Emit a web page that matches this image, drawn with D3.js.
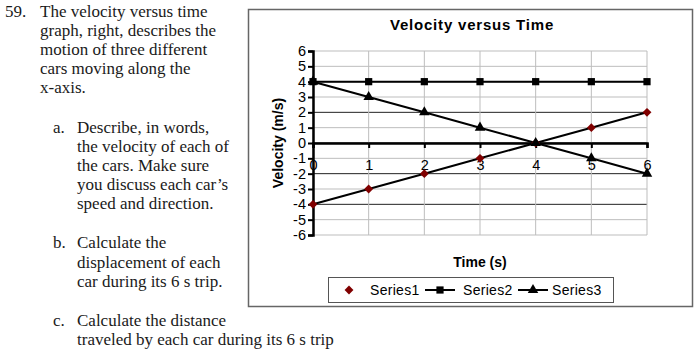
<!DOCTYPE html>
<meta charset="utf-8">
<style>
    body { margin: 0; background: #fff; }
    .q { font-family: "Liberation Serif", serif; font-size: 17px; fill: #1a1a1a; }
    .ch { font-family: Arial, "Liberation Sans", sans-serif; fill: #000; }
</style>
<body>
<script src="https://d3js.org/d3.v7.min.js"></script>
<script>
    // data
    var times = [0, 1, 2, 3, 4, 5, 6];
    var series1 = [-4, -3, -2, -1, 0, 1, 2];
    var series2 = [4, 4, 4, 4, 4, 4, 4];
    var series3 = [4, 3, 2, 1, 0, -1, -2];
    var seriesNames = ["Series1", "Series2", "Series3"];
    var yTicks = [-6, -5, -4, -3, -2, -1, 0, 1, 2, 3, 4, 5, 6];

    // question text on the left
    var questionLines = [
        ["59.", "The velocity versus time"],
        ["", "graph, right, describes the"],
        ["", "motion of three different"],
        ["", "cars moving along the"],
        ["", "x-axis."]
    ];
    var partLines = [
        ["a.", "Describe, in words,", 133],
        ["", "the velocity of each of", 152],
        ["", "the cars. Make sure", 171],
        ["", "you discuss each car\u2019s", 190],
        ["", "speed and direction.", 209],
        ["b.", "Calculate the", 248],
        ["", "displacement of each", 268],
        ["", "car during its 6 s trip.", 287],
        ["c.", "Calculate the distance", 326],
        ["", "traveled by each car during its 6 s trip", 345]
    ];

    var svg = d3.select("body").append("svg")
        .attr("width", 699)
        .attr("height", 354);

    // left-hand text
    questionLines.forEach(function (d, i) {
        var yy = 17 + i * 19;
        if (d[0]) svg.append("text").attr("class", "q").attr("x", 5).attr("y", yy).text(d[0]);
        svg.append("text").attr("class", "q").attr("x", 40).attr("y", yy).text(d[1]);
    });
    partLines.forEach(function (d) {
        if (d[0]) svg.append("text").attr("class", "q").attr("x", 53).attr("y", d[2]).text(d[0]);
        svg.append("text").attr("class", "q").attr("x", 77).attr("y", d[2]).text(d[1]);
    });

    // chart frame
    svg.append("rect")
        .attr("x", 248.5).attr("y", 9.5)
        .attr("width", 444).attr("height", 297)
        .attr("fill", "#fff")
        .attr("stroke", "#666")
        .attr("stroke-width", 1.5);

    var x = d3.scaleLinear().domain([0, 6]).range([313, 647]);
    var y = d3.scaleLinear().domain([-6, 6]).range([235, 51]);

    // grid
    var grid = svg.append("g");
    grid.selectAll(".hg").data(yTicks).enter().append("line")
        .attr("x1", x(0)).attr("x2", x(6))
        .attr("y1", function (d) { return y(d); })
        .attr("y2", function (d) { return y(d); })
        .attr("stroke", function (d) { return (d % 2 === 0 && Math.abs(d) < 6) ? "#222" : "#bdbdbd"; })
        .attr("stroke-width", 1);
    grid.selectAll(".vg").data(times).enter().append("line")
        .attr("y1", y(6)).attr("y2", y(-6))
        .attr("x1", function (d) { return x(d); })
        .attr("x2", function (d) { return x(d); })
        .attr("stroke", "#bdbdbd")
        .attr("stroke-width", 1);

    // axes
    var yAxis = svg.append("g")
        .attr("transform", "translate(" + x(0) + ",0)")
        .call(d3.axisLeft(y).tickValues(yTicks).tickSize(5).tickPadding(2).tickFormat(function (d) { return String(d); }));
    var xAxis = svg.append("g")
        .attr("transform", "translate(0," + y(0) + ")")
        .call(d3.axisBottom(x).tickValues(times).tickSize(5).tickPadding(13).tickFormat(function (d) { return String(d); }));
    [yAxis, xAxis].forEach(function (a) {
        a.select(".domain").attr("stroke", "#000").attr("stroke-width", 2.5);
        a.selectAll(".tick line").attr("stroke", "#000").attr("stroke-width", 2);
        a.selectAll(".tick text")
            .attr("font-family", "Arial, 'Liberation Sans', sans-serif")
            .attr("font-size", 14.5).attr("fill", "#000");
    });
    xAxis.selectAll(".tick text").attr("dy", "0.6em");

    // series lines
    var line = d3.line()
        .x(function (d, i) { return x(times[i]); })
        .y(function (d) { return y(d); });
    [series1, series2, series3].forEach(function (s) {
        svg.append("path").datum(s)
            .attr("d", line)
            .attr("fill", "none")
            .attr("stroke", "#000")
            .attr("stroke-width", 2);
    });

    // markers
    var diamond = d3.symbol().type(d3.symbolDiamond2).size(50);
    var square = d3.symbol().type(d3.symbolSquare).size(52);
    var triangle = d3.symbol().type(d3.symbolTriangle).size(48);
    svg.selectAll(".m1").data(series1).enter().append("path")
        .attr("d", diamond)
        .attr("transform", function (d, i) { return "translate(" + x(times[i]) + "," + y(d) + ")"; })
        .attr("fill", "#800000");
    svg.selectAll(".m2").data(series2).enter().append("path")
        .attr("d", square)
        .attr("transform", function (d, i) { return "translate(" + x(times[i]) + "," + y(d) + ")"; })
        .attr("fill", "#000");
    svg.selectAll(".m3").data(series3).enter().append("path")
        .attr("d", triangle)
        .attr("transform", function (d, i) { return "translate(" + x(times[i]) + "," + y(d) + ")"; })
        .attr("fill", "#000");

    // titles
    svg.append("text").attr("class", "ch")
        .attr("x", 472).attr("y", 30)
        .attr("text-anchor", "middle")
        .attr("font-size", 15).attr("font-weight", "bold")
        .attr("letter-spacing", 0.8)
        .text("Velocity versus Time");
    svg.append("text").attr("class", "ch")
        .attr("transform", "translate(283,143) rotate(-90)")
        .attr("text-anchor", "middle")
        .attr("font-size", 14).attr("font-weight", "bold")
        .text("Velocity (m/s)");
    svg.append("text").attr("class", "ch")
        .attr("x", 480).attr("y", 267)
        .attr("text-anchor", "middle")
        .attr("font-size", 14).attr("font-weight", "bold")
        .text("Time (s)");

    // legend
    var legend = svg.append("g");
    legend.append("rect")
        .attr("x", 328.5).attr("y", 277.5)
        .attr("width", 285).attr("height", 25)
        .attr("fill", "#fff")
        .attr("stroke", "#555")
        .attr("stroke-width", 1);
    var legendItems = [
        { name: seriesNames[0], sym: diamond, color: "#800000", line: false, lx: 340, tx: 370 },
        { name: seriesNames[1], sym: square, color: "#000", line: true, lx: 425, tx: 463 },
        { name: seriesNames[2], sym: triangle, color: "#000", line: true, lx: 518, tx: 552 }
    ];
    legendItems.forEach(function (d) {
        if (d.line) {
            legend.append("line")
                .attr("x1", d.lx).attr("x2", d.lx + 30)
                .attr("y1", 290).attr("y2", 290)
                .attr("stroke", "#000").attr("stroke-width", 2);
        }
        legend.append("path").attr("d", d.sym)
            .attr("transform", "translate(" + (d.line ? d.lx + 15 : d.lx + 9) + ",290)")
            .attr("fill", d.color);
        legend.append("text").attr("class", "ch")
            .attr("x", d.tx).attr("y", 295)
            .attr("font-size", 14)
            .attr("letter-spacing", 0.3)
            .text(d.name);
    });
</script>
</body>
